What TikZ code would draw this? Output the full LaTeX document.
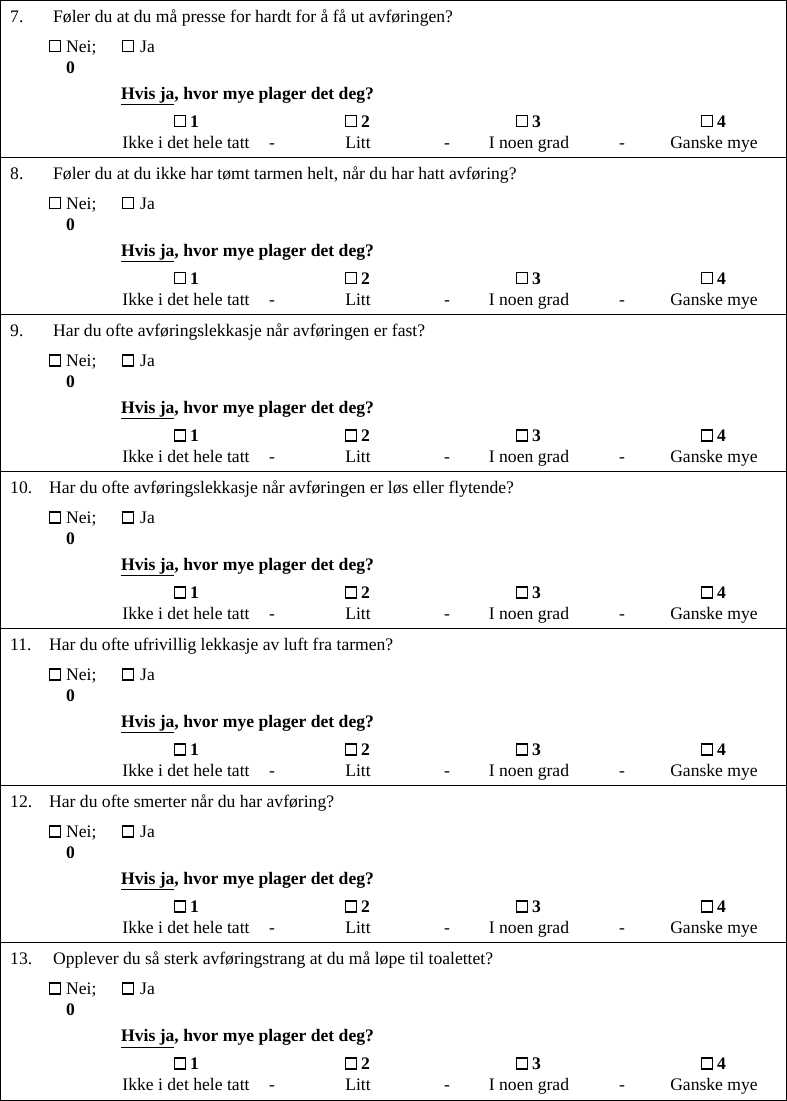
\documentclass[tikz,border=0pt]{standalone}
\usepackage{fontspec}
\setmainfont{Liberation Serif}
\begin{document}
\begin{tikzpicture}[x=1pt,y=-1pt,
  txt/.style={inner sep=0pt,anchor=base west,font=\fontsize{17.6}{20}\selectfont},
  btxt/.style={txt,font=\fontsize{17.6}{20}\selectfont\bfseries},
  ctxt/.style={inner sep=0pt,anchor=base,font=\fontsize{17.6}{20}\selectfont},
  cbox/.style={draw,line width=1.7pt,minimum size=11pt,inner sep=0pt}]
\useasboundingbox (0,0) rectangle (787,1101);
\draw[line width=1pt] (0.5,0.5) rectangle (786.5,1100.5);
\foreach \k/\n/\nx/\qx/\q in {
 0/7./10/53/{Føler du at du må presse for hardt for å få ut avføringen?},
 1/8./10/53/{Føler du at du ikke har tømt tarmen helt, når du har hatt avføring?},
 2/9./10/53/{Har du ofte avføringslekkasje når avføringen er fast?},
 3/10./10/49/{Har du ofte avføringslekkasje når avføringen er løs eller flytende?},
 4/11./10/49/{Har du ofte ufrivillig lekkasje av luft fra tarmen?},
 5/12./10/49/{Har du ofte smerter når du har avføring?},
 6/13./10/53/{Opplever du så sterk avføringstrang at du må løpe til toalettet?}}{
 \begin{scope}[yshift=-\k*157.1pt]
 \ifnum\k>0 \draw[line width=1pt] (0,0) -- (787,0);\fi
 \node[txt] (n\k) at (\nx,22) {\n};
 \node[txt] (q\k) at (\qx,22) {\q};
 \node[cbox] (bn\k) at (55,46) {};
 \node[txt] (tn\k) at (66,52) {Nei;};
 \node[cbox] (bj\k) at (128,46) {};
 \node[txt] (tj\k) at (140,52) {Ja};
 \node[btxt] (z\k) at (66,73) {0};
 \node[btxt] (h\k) at (121,99) {\underline{Hvis ja}, hvor mye plager det deg?};
 \foreach \i/\bx in {1/180,2/351,3/522,4/707}{
   \node[cbox] (b\k\i) at (\bx,121) {};
   \node[btxt] (l\k\i) at (\bx+10,127) {\i};
 }
 \node[ctxt] (a\k) at (186,148) {Ikke i det hele tatt};
 \node[ctxt] (d1\k) at (272,148) {-};
 \node[ctxt] (c\k) at (358,148) {Litt};
 \node[ctxt] (d2\k) at (447,148) {-};
 \node[ctxt] (e\k) at (529,148) {I noen grad};
 \node[ctxt] (d3\k) at (622,148) {-};
 \node[ctxt] (f\k) at (714,148) {Ganske mye};
 \end{scope}
}
\end{tikzpicture}
\end{document}
